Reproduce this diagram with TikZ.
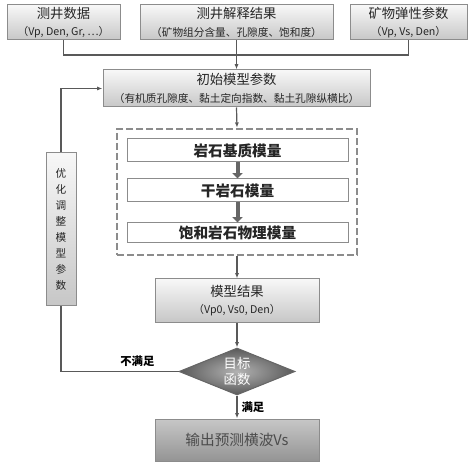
\documentclass[tikz,border=0pt]{standalone}
\usepackage{fontspec}
\setmainfont{Noto Sans CJK SC}
\usetikzlibrary{arrows.meta,shapes.geometric}

\tikzset{every picture/.style={line width=0.75pt}}
\tikzset{
  every node/.style={inner sep=0pt,align=center,text=black!85},
  databox/.style={draw=black!45,top color=black!3,bottom color=black!22,minimum height=26.25pt},
  stepbox/.style={draw=black!45,fill=white,minimum width=165.75pt,minimum height=17.25pt,font=\fontsize{11}{12}\selectfont\bfseries},
  link/.style={draw=black!65,line width=0.9pt},
  tip/.style={-{Latex[length=4pt,width=3pt]}},
  bigarrow/.style={draw=black!60,line width=3pt,-{Triangle[length=4pt,width=7.5pt]}},
  ttl/.style={font=\fontsize{10}{11}\selectfont},
  sub/.style={font=\fontsize{8}{10}\selectfont},
}

\begin{document}
\begin{tikzpicture}[x=0.75pt,y=0.75pt,yscale=-1,xscale=1]
\useasboundingbox (0,0) rectangle (474,466);

% input boxes
\node [databox,minimum width=84.75pt] (logs) at (63.5,22.5) {{\fontsize{10}{12}\selectfont 测井数据}\\[1pt]{\fontsize{8}{10}\selectfont （Vp, Den, Gr, …）}};
\node [databox,minimum width=144.75pt] (interp) at (236.5,22.5) {{\fontsize{10}{12}\selectfont 测井解释结果}\\[1pt]{\fontsize{8}{10}\selectfont （矿物组分含量、孔隙度、饱和度）}};
\node [databox,minimum width=87.75pt] (mineral) at (408.5,22.5) {{\fontsize{10}{12}\selectfont 矿物弹性参数}\\[1pt]{\fontsize{8}{10}\selectfont （Vp, Vs, Den）}};
\coordinate (join) at (236.5,55);

% initial parameters
\node [databox,minimum width=200.25pt,minimum height=27.75pt] (init) at (236.5,88.5) {{\fontsize{10}{12}\selectfont 初始模型参数}\\[1pt]{\fontsize{8}{10}\selectfont （有机质孔隙度、黏土定向指数、黏土孔隙纵横比）}};

% rock physics model group
\node [draw=black!45,dashed,dash pattern=on 5pt off 2.5pt,line width=1.8pt,minimum width=180pt,minimum height=94.5pt] (grp) at (237,192) {};
\node [stepbox] (matrix) at (237.5,150.5) {岩石基质模量};
\node [stepbox] (dry) at (237.5,190.5) {干岩石模量};
\node [stepbox,minimum height=15pt] (sat) at (237.5,233) {饱和岩石物理模量};

% result, objective, output
\node [databox,minimum width=123pt,minimum height=32.25pt] (result) at (237,300.5) {{\fontsize{10}{12}\selectfont 模型结果}\\[1pt]{\fontsize{8}{10}\selectfont （Vp0, Vs0, Den）}};
\node [diamond,draw=black!60,inner color=black!30,outer color=black!65,minimum width=87pt,minimum height=35.25pt,aspect=2.4,text=white,font=\fontsize{10}{12}\selectfont] (obj) at (237,371.5) {目标\\函数};
\node [draw=black!45,top color=black!22,bottom color=black!42,minimum width=123pt,minimum height=31.5pt,text=black!70,font=\fontsize{11}{12}\selectfont] (out) at (237,440) {输出预测横波Vs};

% feedback box
\node [databox,minimum width=22.5pt,minimum height=114pt,font=\fontsize{8}{12}\selectfont] (tune) at (61,229) {优\\化\\调\\整\\模\\型\\参\\数};

% connectors
\draw [link] (logs.south) |- (join) -| (mineral.south);
\draw [link,tip] (interp.south) -- (init.north);
\draw [link,tip] (init.south) -- (grp.north);
\draw [bigarrow] (matrix.south) -- (dry.north);
\draw [bigarrow] (dry.south) -- (sat.north);
\draw [link,tip] (grp.south) -- (result.north);
\draw [link,tip] (result.south) -- (obj.north);
\draw [link,tip] (obj.south) -- node [right=3pt,font=\fontsize{8.5}{10}\selectfont\bfseries,text=black] {满足} (out.north);
\draw [link] (obj.west) -- node [pos=0.35,above=3pt,font=\fontsize{8.5}{10}\selectfont\bfseries,text=black] {不满足} (obj.west -| tune.south) -- (tune.south);
\draw [link,tip] (tune.north) |- (init.west);

\end{tikzpicture}
\end{document}
